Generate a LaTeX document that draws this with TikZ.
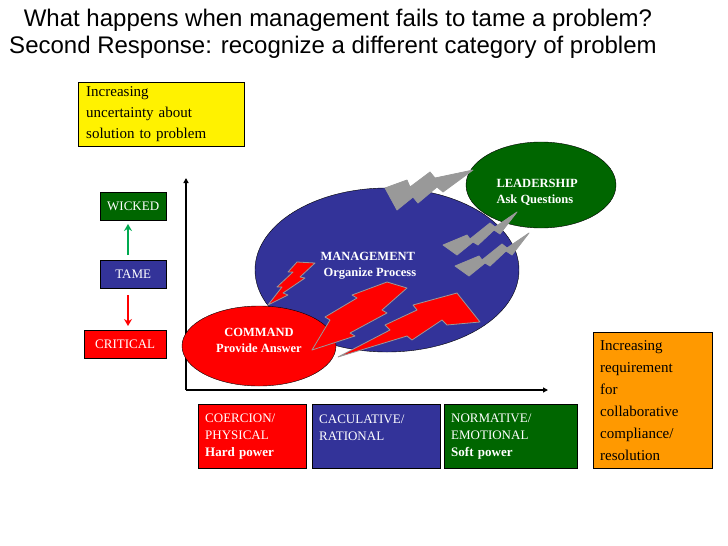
\documentclass[tikz,border=0pt]{standalone}
\usepackage{fontspec}
\setmainfont{Liberation Serif}
\newfontfamily\sans{Liberation Sans}
\usetikzlibrary{arrows.meta}
\definecolor{pblue}{HTML}{333399}
\definecolor{pgreen}{HTML}{006600}
\definecolor{pred}{HTML}{FF0000}
\definecolor{porange}{HTML}{FF9900}
\definecolor{bgray}{HTML}{999999}
\begin{document}
\begin{tikzpicture}[x=1pt,y=-1pt,
  box/.style={draw=black,anchor=north west,inner sep=4pt,align=left,font=\fontsize{13}{17}\selectfont},
  ell/.style={draw=black,ellipse,line width=0.6pt},
  bolt/.style={draw=bgray,line width=0.8pt,line join=round},
  lbl/.style={font=\bfseries\fontsize{12.5}{16}\selectfont,text=white,align=left}]
\useasboundingbox (0,0) rectangle (728,546);
\node[font=\sans\fontsize{24}{28}\selectfont] (t1) at (338,20) {What happens when management fails to tame a problem?};
\node[font=\sans\fontsize{24}{28}\selectfont] (t2) at (333,47) {Second Response: recognize a different category of problem};
% axes
\coordinate (o) at (186,390);
\coordinate (ytop) at (186,178);
\coordinate (xend) at (548,390);
\draw[line width=1.5pt,-{Triangle[length=5pt,width=5pt]}] (o) -- (ytop);
\draw[line width=1.5pt,-{Triangle[length=5pt,width=5pt]}] (o) -- (xend);
% ellipses
\fill[pblue,draw=black] (387,270) ellipse [x radius=132,y radius=82];
\node[lbl,anchor=west] (mgmt) at (317,266) {MANAGEMENT\\\ Organize Process};
\fill[pgreen,draw=black] (541,185) ellipse [x radius=75,y radius=43];
\node[lbl,anchor=west] (lead) at (493,192) {LEADERSHIP\\Ask Questions};
% gray bolts
\filldraw[bolt,fill=bgray] (385,188)--(407,180)--(410,187)--(430,172)--(435,178)--(473,170)--(443,192)--(437,187)--(418,203)--(413,197)--(397,210)--cycle;
\filldraw[bolt,fill=bgray] (443,245)--(467,235)--(470,239)--(490,223)--(495,227)--(517,212)--(500,234)--(494,230)--(478,245)--(473,242)--(457,255)--cycle;
\filldraw[bolt,fill=bgray,shift={(12,21)}] (443,245)--(467,235)--(470,239)--(490,223)--(495,227)--(517,212)--(500,234)--(494,230)--(478,245)--(473,242)--(457,255)--cycle;
% command
\fill[pred,draw=black] (259,346) ellipse [x radius=77,y radius=40];
\node[lbl,align=center] (cmd) at (259,340) {COMMAND\\Provide Answer};
% red bolts
\filldraw[bolt,fill=pred] (297,262)--(315,263)--(300,277)--(305,278)--(283,293)--(288,295)--(268,305)--(282,287)--(277,287)--(293,272)--(288,272)--cycle;
\filldraw[bolt,fill=pred] (312,350)--(330,320)--(325,317)--(357,298)--(352,295)--(387,282)--(407,288)--(382,310)--(387,313)--(350,333)--(355,336)--cycle;
\filldraw[bolt,fill=pred] (338,357)--(390,330)--(385,325)--(417,310)--(413,305)--(457,293)--(480,322)--(447,325)--(442,320)--(412,340)--(407,336)--cycle;
% left boxes
\node[box,fill=yellow,minimum width=166pt,minimum height=64pt,text width=150pt,font=\fontsize{15}{21}\selectfont] (unc) at (78,82) {Increasing\\uncertainty about\\solution to problem};
\node[box,fill=pgreen,text=white,minimum width=66pt,minimum height=28pt] (wick) at (100,192) {WICKED};
\node[box,fill=pblue,text=white,minimum width=66pt,minimum height=28pt] (tame) at (100,260) {TAME};
\node[box,fill=pred,text=white,minimum width=82pt,minimum height=28pt] (crit) at (84,330) {CRITICAL};
\draw[draw={rgb,255:red,0;green,170;blue,80},line width=2pt,-{Stealth[length=7pt,width=8pt]}] (128,255) -- (128,224);
\draw[pred,line width=2pt,-{Stealth[length=7pt,width=8pt]}] (128,295) -- (128,326);
% bottom boxes
\node[box,fill=pred,text=white,minimum width=108pt,minimum height=64pt,text width=94pt] (coer) at (198,404) {COERCION/\\PHYSICAL\\\textbf{Hard power}};
\node[box,fill=pblue,text=white,minimum width=128pt,minimum height=64pt,text width=114pt] (calc) at (312,404) {CACULATIVE/\\RATIONAL\\\phantom{X}};
\node[box,fill=pgreen,text=white,minimum width=133pt,minimum height=64pt,text width=119pt] (norm) at (444,404) {NORMATIVE/\\EMOTIONAL\\\textbf{Soft power}};
\node[box,fill=porange,minimum width=119pt,minimum height=136pt,text width=105pt,font=\fontsize{15}{22}\selectfont] (req) at (593,332) {Increasing\\requirement\\for\\collaborative\\compliance/\\resolution};
\end{tikzpicture}
\end{document}
